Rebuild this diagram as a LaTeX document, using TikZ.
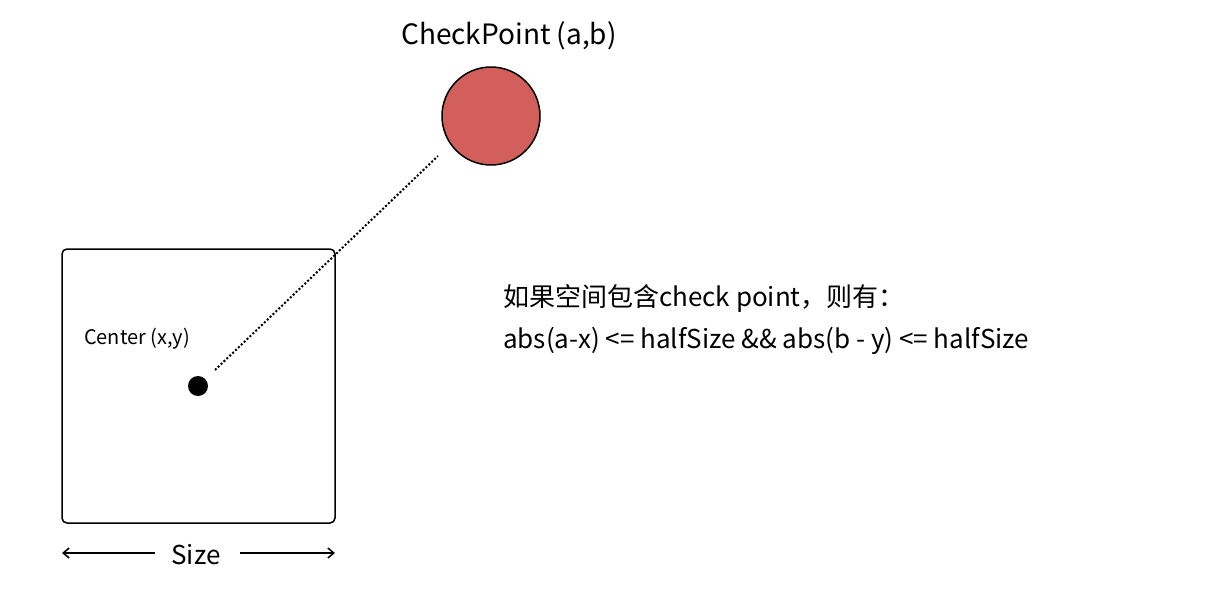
\documentclass[tikz,border=0pt]{standalone}
\usepackage{fontspec}
\setmainfont{Noto Sans CJK SC}
\usetikzlibrary{arrows.meta}
\definecolor{cpred}{HTML}{D35F5C}
\begin{document}
\begin{tikzpicture}[x=1pt,y=-1pt,
  lbl/.style={inner sep=0pt},
  dimarrow/.style={-{Straight Barb[length=6pt,width=10pt]},line width=1.5pt}]
\useasboundingbox (0,0) rectangle (1232,613);
\node[draw,line width=1.5pt,rounded corners=5pt,minimum width=273pt,minimum height=274pt,inner sep=0pt] (box) at (198.5,386) {};
\node[circle,fill=cpred,draw,line width=1.5pt,minimum size=98pt,inner sep=0pt] (cp) at (491,116) {};
\node[circle,fill=black,minimum size=20pt,inner sep=0pt] (c) at (198,386) {};
\coordinate (ds) at (215,370);
\coordinate (de) at (438,156);
\draw[dotted,line width=2pt] (ds) -- (de);
\node[lbl,font=\fontsize{28}{32}\selectfont] (cpl) at (509,36) {CheckPoint (a,b)};
\node[lbl,font=\fontsize{20}{24}\selectfont] (cl) at (137,339) {Center (x,y)};
\node[lbl,font=\fontsize{26}{30}\selectfont] (sz) at (196,555) {Size};
\coordinate (l) at (62,553);
\coordinate (r) at (335,553);
\draw[dimarrow] (155,553) -- (l);
\draw[dimarrow] (240,553) -- (r);
\node[lbl,anchor=west,font=\fontsize{26}{30}\selectfont] (t1) at (503,298) {如果空间包含check point，则有：};
\node[lbl,anchor=west,font=\fontsize{26}{30}\selectfont] (t2) at (503,341) {abs(a-x) <= halfSize \&\& abs(b - y) <= halfSize};
\end{tikzpicture}
\end{document}
